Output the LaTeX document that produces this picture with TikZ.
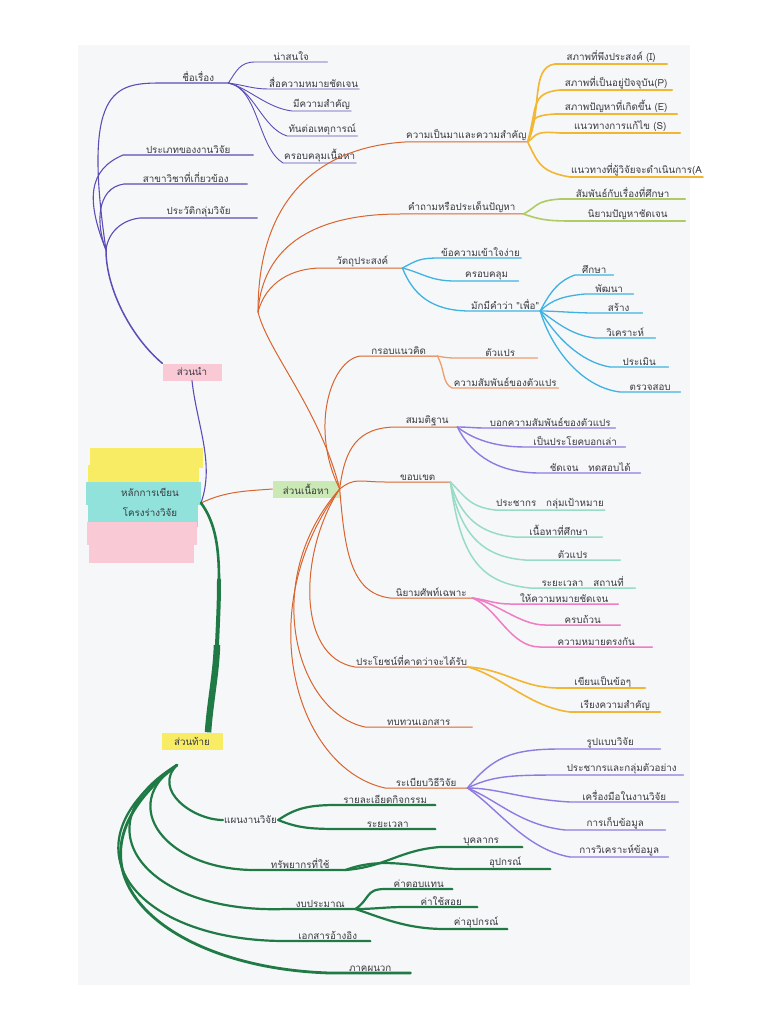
\documentclass[tikz,border=0pt]{standalone}
\usepackage{fontspec}
\newfontfamily\thaifont[Script=Thai]{Loma}
\usepackage{xcolor}
\usepackage{tikz}

\definecolor{paper}{HTML}{F6F7F8}
\definecolor{ink}{HTML}{3A3A42}
\definecolor{cIntro}{HTML}{5B4DB5}
\definecolor{cBody}{HTML}{D8652F}
\definecolor{cEnd}{HTML}{1F7A46}
\definecolor{cGold}{HTML}{F2B632}
\definecolor{cLime}{HTML}{AFCB63}
\definecolor{cSky}{HTML}{3FB2E2}
\definecolor{cPeach}{HTML}{F09D6E}
\definecolor{cLav}{HTML}{8E7BE2}
\definecolor{cMint}{HTML}{98DCC6}
\definecolor{cRose}{HTML}{EF7CC4}
\definecolor{hlYellow}{HTML}{F8EC64}
\definecolor{hlCyan}{HTML}{90E2DA}
\definecolor{hlPink}{HTML}{F9CAD5}
\definecolor{hlGreen}{HTML}{CBE9B4}

\begin{document}
\begin{tikzpicture}[x=1pt, y=-1pt,
        lbl/.style={font=\thaifont\fontsize{9.8}{11}\selectfont, text=ink, inner sep=1pt},
        leaf/.style={lbl, anchor=south west, minimum width=#1},
        partbox/.style={lbl, minimum height=17, inner xsep=5pt},
        introline/.style={draw=cIntro, line width=1.1pt, line cap=round},
        bodyline/.style={draw=cBody, line width=1pt, line cap=round},
        endline/.style={draw=cEnd, line width=2.2pt, line cap=round},
        goldline/.style={draw=cGold, line width=1.6pt, line cap=round},
        limeline/.style={draw=cLime, line width=1.6pt, line cap=round},
        skyline/.style={draw=cSky, line width=1.3pt, line cap=round},
        peachline/.style={draw=cPeach, line width=1.3pt, line cap=round},
        lavline/.style={draw=cLav, line width=1.4pt, line cap=round},
        mintline/.style={draw=cMint, line width=1.5pt, line cap=round},
        roseline/.style={draw=cRose, line width=1.5pt, line cap=round}
        ]

        % Sheet
        \fill[white] (0,0) rectangle (768,1024);
        \useasboundingbox (0,0) rectangle (768,1024);
        \fill[paper] (78,45) rectangle (690,985);

        % Centre: highlighted title
        \fill[hlYellow] (90,448) rectangle (203,468);
        \fill[hlYellow] (88,465) rectangle (199,488);
        \fill[hlCyan] (86,482) rectangle (201,505);
        \fill[hlCyan] (88,503) rectangle (198,527);
        \fill[hlPink] (87,522) rectangle (197,545);
        \fill[hlPink] (89,542) rectangle (194,563);
        \node[lbl, align=center] (core) at (150,502) {หลักการเขียน\\[9pt]โครงร่างวิจัย};
        \coordinate (cHub) at (201,503);

        % The three parts
        \node[partbox, fill=hlPink, minimum width=59] (nam) at (192,372) {ส่วนนำ};
        \node[partbox, fill=hlGreen, minimum width=67] (sn) at (306,489) {ส่วนเนื้อหา};
        \node[partbox, fill=hlYellow, minimum width=61] (st) at (192,741) {ส่วนท้าย};

        \draw[introline] (cHub) .. controls +(14,-40) and +(5,45) .. (nam.south);
        \draw[bodyline] (cHub) .. controls +(25,-12) and +(-25,2) .. (sn.west);
        \coordinate (eTop) at (219,580);
        \coordinate (eMid) at (217,645);
        \draw[endline, line width=2.6pt] (cHub) .. controls +(15,20) and +(0,-30) .. (eTop);
        \draw[endline, line width=4pt] (eTop) .. controls +(0,25) and +(1,-25) .. (eMid);
        \draw[endline, line width=6.5pt, line cap=butt] (eMid) .. controls +(-1,30) and +(2,-30) .. ([xshift=16]st.north);

        % Intro branch (top left)
        \coordinate (iHub) at (106,250);
        \draw[introline, line width=1.5pt] (nam.north west) .. controls +(-30,-25) and +(0,40) .. (iHub);

        \node[leaf=60] (i1) at (168,83) {ชื่อเรื่อง};
        \node[leaf=130] (i2) at (123,155) {ประเภทของงานวิจัย};
        \node[leaf=123] (i3) at (124,184) {สาขาวิชาที่เกี่ยวข้อง};
        \node[leaf=117] (i4) at (140,218) {ประวัติกลุ่มวิจัย};

        \draw[introline] (iHub) .. controls +(-25,-170) and +(-50,0) .. (i1.south west) -- (i1.south east);
        \draw[introline] (iHub) .. controls +(-20,-50) and +(-35,15) .. (i2.south west) -- (i2.south east);
        \draw[introline] (iHub) .. controls +(-10,-25) and +(-28,4) .. (i3.south west) -- (i3.south east);
        \draw[introline] (iHub) .. controls +(2,-18) and +(-18,2) .. (i4.south west) -- (i4.south east);

        \node[leaf=72] (t1) at (255,62) {น่าสนใจ};
        \node[leaf=72] (t2) at (268,89) {สื่อความหมายชัดเจน};
        \node[leaf=50] (t3) at (292,111) {มีความสำคัญ};
        \node[leaf=70] (t4) at (287,136) {ทันต่อเหตุการณ์};
        \node[leaf=70] (t5) at (283,163) {ครอบคลุมเนื้อหา};

        \draw[introline, line width=0.9pt] (i1.south east) .. controls +(8,-12) and +(-15,0) .. (t1.south west) -- (t1.south east);
        \draw[introline, line width=0.9pt] (i1.south east) .. controls +(15,2) and +(-15,0) .. (t2.south west) -- (t2.south east);
        \draw[introline, line width=0.9pt] (i1.south east) .. controls +(20,5) and +(-25,-3) .. (t3.south west) -- (t3.south east);
        \draw[introline, line width=0.9pt] (i1.south east) .. controls +(25,5) and +(-25,-8) .. (t4.south west) -- (t4.south east);
        \draw[introline, line width=0.9pt] (i1.south east) .. controls +(30,5) and +(-25,-15) .. (t5.south west) -- (t5.south east);

        % Body branch (right)
        \coordinate (uHub) at (258,312);
        \draw[bodyline] (sn.east) .. controls +(-20,-80) and +(10,40) .. (uHub);

        \node[leaf=117] (b1) at (405,142) {ความเป็นมาและความสำคัญ};
        \node[leaf=123] (b2) at (400,214) {คำถามหรือประเด็นปัญหา};
        \node[leaf=80] (b3) at (322,268) {วัตถุประสงค์};
        \node[leaf=77] (b4) at (360,356) {กรอบแนวคิด};
        \node[leaf=60] (b5) at (397,427) {สมมติฐาน};
        \node[leaf=65] (b6) at (385,482) {ขอบเขต};
        \node[leaf=82] (b7) at (390,598) {นิยามศัพท์เฉพาะ};
        \node[leaf=108] (b8) at (355,667) {ประโยชน์ที่คาดว่าจะได้รับ};
        \node[leaf=107] (b9) at (365,727) {ทบทวนเอกสาร};
        \node[leaf=82] (b10) at (385,788) {ระเบียบวิธีวิจัย};

        \draw[bodyline] (uHub) .. controls +(0,-120) and +(-80,5) .. (b1.south west) -- (b1.south east);
        \draw[bodyline] (uHub) .. controls +(5,-70) and +(-80,0) .. (b2.south west) -- (b2.south east);
        \draw[bodyline] (uHub) .. controls +(8,-30) and +(-30,0) .. (b3.south west) -- (b3.south east);
        \draw[bodyline] (sn.east) .. controls +(-30,-60) and +(-30,5) .. (b4.south west) -- (b4.south east);
        \draw[bodyline] (sn.east) .. controls +(5,-40) and +(-40,0) .. (b5.south west) -- (b5.south east);
        \draw[bodyline] (sn.east) .. controls +(15,-12) and +(-25,0) .. (b6.south west) -- (b6.south east);
        \draw[bodyline] (sn.east) .. controls +(5,60) and +(-40,-5) .. (b7.south west) -- (b7.south east);
        \draw[bodyline] (sn.east) .. controls +(-40,60) and +(-60,-10) .. (b8.south west) -- (b8.south east);
        \draw[bodyline] (sn.east) .. controls +(-80,90) and +(-70,-15) .. (b9.south west) -- (b9.south east);
        \draw[bodyline] (sn.east) .. controls +(-90,120) and +(-90,-20) .. (b10.south west) -- (b10.south east);

        % Background and importance
        \node[leaf=112] (y1) at (555,64) {สภาพที่พึงประสงค์ (I)};
        \node[leaf=112] (y2) at (560,90) {สภาพที่เป็นอยู่ปัจจุบัน(P)};
        \node[leaf=122] (y3) at (555,114) {สภาพปัญหาที่เกิดขึ้น (E)};
        \node[leaf=120] (y4) at (560,133) {แนวทางการแก้ไข (S)};
        \node[leaf=120] (y5) at (570,177) {แนวทางที่ผู้วิจัยจะดำเนินการ(A};

        \draw[goldline] (b1.south east) .. controls +(15,-30) and +(-25,3) .. (y1.south west) -- (y1.south east);
        \draw[goldline] (b1.south east) .. controls +(10,-35) and +(-30,3) .. (y2.south west) -- (y2.south east);
        \draw[goldline] (b1.south east) .. controls +(8,-20) and +(-30,2) .. (y3.south west) -- (y3.south east);
        \draw[goldline] (b1.south east) .. controls +(10,-8) and +(-25,-2) .. (y4.south west) -- (y4.south east);
        \draw[goldline] (b1.south east) .. controls +(10,20) and +(-30,-5) .. (y5.south west) -- (y5.south east);

        % Research question
        \node[leaf=125] (g1) at (560,199) {สัมพันธ์กับเรื่องที่ศึกษา};
        \node[leaf=115] (g2) at (570,221) {นิยามปัญหาชัดเจน};

        \draw[limeline] (b2.south east) .. controls +(15,-8) and +(-25,2) .. (g1.south west) -- (g1.south east);
        \draw[limeline] (b2.south east) .. controls +(15,5) and +(-25,0) .. (g2.south west) -- (g2.south east);

        % Objectives
        \node[leaf=73] (o1) at (440,258) {ข้อความเข้าใจง่าย};
        \node[leaf=63] (o2) at (455,281) {ครอบคลุม};
        \node[leaf=68] (o3) at (470,311) {มักมีคำว่า "เพื่อ"};

        \draw[skyline] (b3.south east) .. controls +(15,-8) and +(-20,0) .. (o1.south west) -- (o1.south east);
        \draw[skyline] (b3.south east) .. controls +(20,5) and +(-25,0) .. (o2.south west) -- (o2.south east);
        \draw[skyline] (b3.south east) .. controls +(10,25) and +(-40,0) .. (o3.south west) -- (o3.south east);

        \node[leaf=38] (p1) at (575,275) {ศึกษา};
        \node[leaf=48] (p2) at (585,294) {พัฒนา};
        \node[leaf=47] (p3) at (595,313) {สร้าง};
        \node[leaf=60] (p4) at (595,338) {วิเคราะห์};
        \node[leaf=58] (p5) at (610,367) {ประเมิน};
        \node[leaf=60] (p6) at (620,392) {ตรวจสอบ};

        \draw[skyline] (o3.south east) .. controls +(10,-20) and +(-15,5) .. (p1.south west) -- (p1.south east);
        \draw[skyline] (o3.south east) .. controls +(12,-12) and +(-20,2) .. (p2.south west) -- (p2.south east);
        \draw[skyline] (o3.south east) .. controls +(15,0) and +(-20,0) .. (p3.south west) -- (p3.south east);
        \draw[skyline] (o3.south east) .. controls +(15,10) and +(-25,-3) .. (p4.south west) -- (p4.south east);
        \draw[skyline] (o3.south east) .. controls +(15,25) and +(-30,-5) .. (p5.south west) -- (p5.south east);
        \draw[skyline] (o3.south east) .. controls +(10,35) and +(-40,-5) .. (p6.south west) -- (p6.south east);

        % Conceptual framework
        \node[leaf=74] (k1) at (463,358) {ตัวแปร};
        \node[leaf=106] (k2) at (452,388) {ความสัมพันธ์ของตัวแปร};

        \draw[peachline] (b4.south east) .. controls +(10,2) and +(-15,0) .. (k1.south west) -- (k1.south east);
        \draw[peachline] (b4.south east) .. controls +(8,15) and +(-10,-5) .. (k2.south west) -- (k2.south east);

        % Hypothesis
        \node[leaf=130] (s1) at (485,428) {บอกความสัมพันธ์ของตัวแปร};
        \node[leaf=100] (s2) at (525,447) {เป็นประโยคบอกเล่า};
        \node[leaf=100] (s3) at (540,473) {ชัดเจน\quad ทดสอบได้};

        \draw[lavline] (b5.south east) .. controls +(10,0) and +(-10,0) .. (s1.south west) -- (s1.south east);
        \draw[lavline] (b5.south east) .. controls +(15,12) and +(-30,0) .. (s2.south west) -- (s2.south east);
        \draw[lavline] (b5.south east) .. controls +(15,30) and +(-40,0) .. (s3.south west) -- (s3.south east);

        % Scope
        \node[leaf=102] (m1) at (495,510) {ประชากร\quad กลุ่มเป้าหมาย};
        \node[leaf=87] (m2) at (515,537) {เนื้อหาที่ศึกษา};
        \node[leaf=95] (m3) at (525,560) {ตัวแปร};
        \node[leaf=105] (m4) at (530,588) {ระยะเวลา\quad สถานที่};

        \draw[mintline] (b6.south east) .. controls +(15,15) and +(-25,-3) .. (m1.south west) -- (m1.south east);
        \draw[mintline] (b6.south east) .. controls +(10,35) and +(-35,-3) .. (m2.south west) -- (m2.south east);
        \draw[mintline] (b6.south east) .. controls +(10,55) and +(-40,-3) .. (m3.south west) -- (m3.south east);
        \draw[mintline] (b6.south east) .. controls +(10,75) and +(-50,-5) .. (m4.south west) -- (m4.south east);

        % Definitions
        \node[leaf=108] (n1) at (510,604) {ให้ความหมายชัดเจน};
        \node[leaf=75] (n2) at (545,625) {ครบถ้วน};
        \node[leaf=112] (n3) at (540,647) {ความหมายตรงกัน};

        \draw[roseline] (b7.south east) .. controls +(15,2) and +(-15,0) .. (n1.south west) -- (n1.south east);
        \draw[roseline] (b7.south east) .. controls +(25,5) and +(-25,0) .. (n2.south west) -- (n2.south east);
        \draw[roseline] (b7.south east) .. controls +(25,10) and +(-30,0) .. (n3.south west) -- (n3.south east);

        % Expected benefits
        \node[leaf=85] (u1) at (560,688) {เขียนเป็นข้อๆ};
        \node[leaf=90] (u2) at (570,712) {เรียงความสำคัญ};

        \draw[goldline] (b8.south east) .. controls +(40,3) and +(-40,0) .. (u1.south west) -- (u1.south east);
        \draw[goldline] (b8.south east) .. controls +(35,10) and +(-40,-5) .. (u2.south west) -- (u2.south east);

        % Methodology
        \node[leaf=100] (r1) at (560,749) {รูปแบบวิจัย};
        \node[leaf=123] (r2) at (560,775) {ประชากรและกลุ่มตัวอย่าง};
        \node[leaf=108] (r3) at (570,802) {เครื่องมือในงานวิจัย};
        \node[leaf=100] (r4) at (565,830) {การเก็บข้อมูล};
        \node[leaf=98] (r5) at (570,857) {การวิเคราะห์ข้อมูล};

        \draw[lavline] (b10.south east) .. controls +(25,-30) and +(-50,0) .. (r1.south west) -- (r1.south east);
        \draw[lavline] (b10.south east) .. controls +(25,-12) and +(-50,0) .. (r2.south west) -- (r2.south east);
        \draw[lavline] (b10.south east) .. controls +(30,0) and +(-50,-3) .. (r3.south west) -- (r3.south east);
        \draw[lavline] (b10.south east) .. controls +(30,12) and +(-45,-5) .. (r4.south west) -- (r4.south east);
        \draw[lavline] (b10.south east) .. controls +(30,20) and +(-45,-8) .. (r5.south west) -- (r5.south east);

        % End branch (bottom left)
        \coordinate (eHub) at (177,765);

        \node[lbl, anchor=west] (e1) at (223,820) {แผนงานวิจัย};
        \node[leaf=90] (e2) at (255,870) {ทรัพยากรที่ใช้};
        \node[leaf=70] (e3) at (285,909) {งบประมาณ};
        \node[leaf=85] (e4) at (285,941) {เอกสารอ้างอิง};
        \node[leaf=80] (e5) at (330,973) {ภาคผนวก};

        \draw[endline] (eHub) .. controls +(-25,25) and +(-30,0) .. (e1.west);
        \draw[endline] (eHub) .. controls +(-60,40) and +(-90,0) .. (e2.south west) -- (e2.south east);
        \draw[endline] (eHub) .. controls +(-100,60) and +(-140,5) .. (e3.south west) -- (e3.south east);
        \draw[endline] (eHub) .. controls +(-120,80) and +(-150,0) .. (e4.south west) -- (e4.south east);
        \draw[endline, line width=2.8pt] (eHub) .. controls +(-130,100) and +(-170,-5) .. (e5.south west) -- (e5.south east);

        \node[leaf=100] (f1) at (335,805) {รายละเอียดกิจกรรม};
        \node[leaf=95] (f2) at (340,829) {ระยะเวลา};

        \draw[endline] (e1.east) .. controls +(15,-10) and +(-30,0) .. (f1.south west) -- (f1.south east);
        \draw[endline] (e1.east) .. controls +(20,8) and +(-30,0) .. (f2.south west) -- (f2.south east);

        \node[leaf=82] (h1) at (440,847) {บุคลากร};
        \node[leaf=90] (h2) at (460,869) {อุปกรณ์};

        \draw[endline] (e2.south east) .. controls +(40,-3) and +(-40,3) .. (h1.south west) -- (h1.south east);
        \draw[endline] (e2.south east) .. controls +(40,-15) and +(-40,0) .. (h2.south west) -- (h2.south east);

        \node[leaf=67] (j1) at (385,889) {ค่าตอบแทน};
        \node[leaf=72] (j2) at (405,907) {ค่าใช้สอย};
        \node[leaf=62] (j3) at (445,929) {ค่าอุปกรณ์};

        \draw[endline] (e3.south east) .. controls +(15,-10) and +(-20,0) .. (j1.south west) -- (j1.south east);
        \draw[endline] (e3.south east) .. controls +(20,0) and +(-20,0) .. (j2.south west) -- (j2.south east);
        \draw[endline] (e3.south east) .. controls +(25,8) and +(-40,0) .. (j3.south west) -- (j3.south east);

    \end{tikzpicture}
\end{document}
